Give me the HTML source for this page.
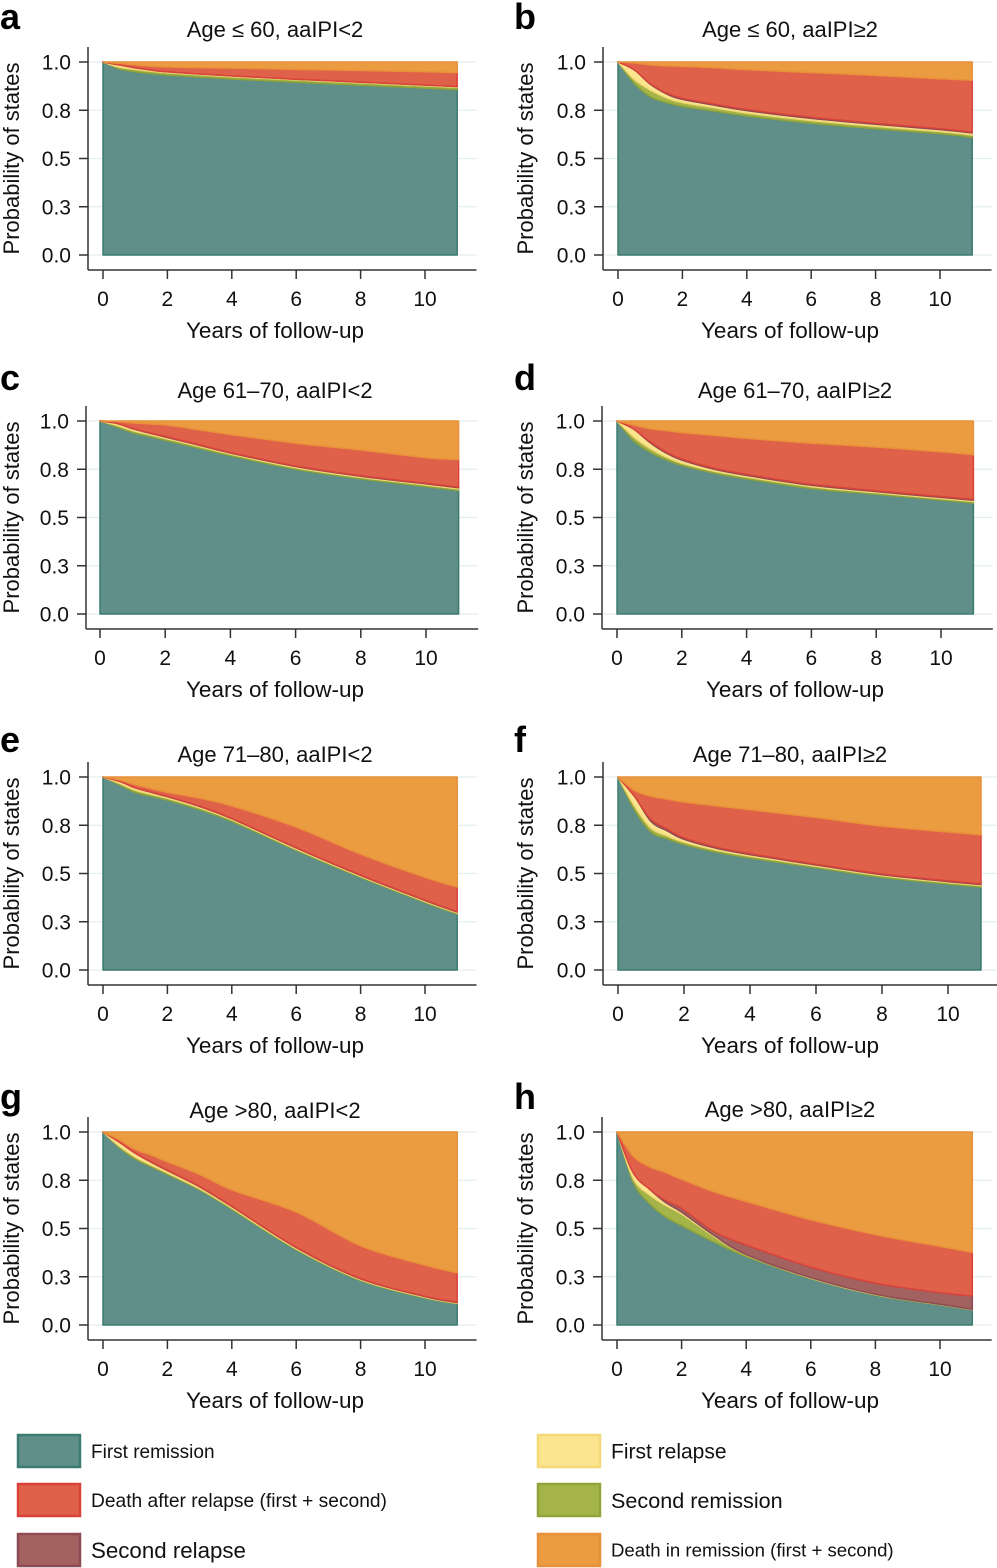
<!DOCTYPE html>
<html><head><meta charset="utf-8">
<style>
body{margin:0;background:#fff;}
svg{display:block;font-family:"Liberation Sans",Arial,sans-serif;}
</style></head>
<body>
<svg id="chart" width="997" height="1568" viewBox="0 0 997 1568" xmlns="http://www.w3.org/2000/svg"></svg>
<script>
const times = [0,0.5,1,1.5,2,3,4,6,8,10,11];
const xTickLabels = [0,2,4,6,8,10];
const yTickValues = [0,0.25,0.5,0.75,1];
const yTickLabels = ["0.0","0.3","0.5","0.8","1.0"];
const stateNames = ["First remission","Second remission","First relapse","Second relapse","Death after relapse (first + second)","Death in remission (first + second)"];
const panelTitles = ["Age \u2264 60, aaIPI<2","Age \u2264 60, aaIPI\u22652","Age 61\u201370, aaIPI<2","Age 61\u201370, aaIPI\u22652","Age 71\u201380, aaIPI<2","Age 71\u201380, aaIPI\u22652","Age >80, aaIPI<2","Age >80, aaIPI\u22652"];
const panelLetters = ["a","b","c","d","e","f","g","h"];

const aFirstRemission = [1,.965,.95,.94,.932,.922,.912,.895,.88,.865,.857];
const aSecondRemission = [0,.008,.012,.012,.012,.012,.012,.012,.012,.012,.012];
const aFirstRelapse = [0,.012,.008,.006,.005,.004,.004,.004,.004,.004,.004];
const aSecondRelapse = [0,0,0,0,0,0,0,0,0,0,0];
const aDeathRelapse = [0,.008,.015,.02,.025,.032,.04,.05,.06,.068,.072];
const aDeathRemission = [0,.007,.015,.022,.026,.03,.032,.039,.044,.051,.055];

const bFirstRemission = [1,.89,.82,.79,.77,.745,.72,.683,.654,.628,.61];
const bSecondRemission = [0,.02,.035,.025,.02,.018,.016,.014,.013,.012,.012];
const bFirstRelapse = [0,.05,.03,.02,.016,.013,.012,.011,.01,.01,.01];
const bSecondRelapse = [0,0,.003,.005,.006,.006,.006,.006,.006,.005,.005];
const bDeathRelapse = [0,.035,.097,.14,.165,.188,.206,.231,.247,.258,.268];
const bDeathRemission = [0,.005,.015,.02,.023,.03,.04,.055,.07,.087,.095];

const cFirstRemission = [1,.97,.94,.92,.9,.86,.82,.75,.7,.66,.64];
const cSecondRemission = [0,.008,.01,.01,.01,.01,.008,.008,.008,.008,.008];
const cFirstRelapse = [0,.01,.01,.008,.007,.006,.006,.006,.006,.006,.006];
const cSecondRelapse = [0,0,.002,.002,.003,.003,.003,.003,.003,.003,.003];
const cDeathRelapse = [0,.01,.028,.045,.06,.076,.093,.118,.133,.133,.143];
const cDeathRemission = [0,.002,.01,.015,.02,.045,.07,.115,.15,.19,.2];

const dFirstRemission = [1,.9,.84,.8,.77,.73,.7,.65,.62,.59,.575];
const dSecondRemission = [0,.02,.02,.015,.012,.01,.01,.01,.008,.008,.008];
const dFirstRelapse = [0,.04,.03,.02,.015,.01,.008,.007,.006,.006,.006];
const dSecondRelapse = [0,0,.005,.006,.006,.006,.006,.005,.005,.005,.005];
const dDeathRelapse = [0,.02,.065,.109,.137,.169,.186,.213,.226,.231,.231];
const dDeathRemission = [0,.02,.04,.05,.06,.075,.09,.115,.135,.16,.175];

const eFirstRemission = [1,.96,.92,.9,.88,.83,.77,.62,.48,.35,.29];
const eSecondRemission = [0,.008,.012,.01,.01,.01,.008,.006,.005,.005,.005];
const eFirstRelapse = [0,.01,.012,.01,.008,.007,.006,.006,.005,.005,.005];
const eSecondRelapse = [0,0,0,.002,.002,.002,.002,.002,.002,.002,.002];
const eDeathRelapse = [0,.007,.016,.018,.02,.041,.064,.106,.108,.118,.128];
const eDeathRemission = [0,.015,.04,.06,.08,.11,.15,.26,.4,.52,.57];

const fFirstRemission = [1,.83,.715,.68,.65,.61,.58,.53,.48,.445,.43];
const fSecondRemission = [0,.02,.02,.015,.012,.01,.01,.008,.008,.008,.008];
const fFirstRelapse = [0,.05,.035,.025,.015,.01,.008,.006,.006,.005,.005];
const fSecondRelapse = [0,0,.01,.01,.008,.006,.005,.004,.004,.004,.004];
const fDeathRelapse = [0,.03,.12,.155,.185,.214,.227,.242,.247,.253,.253];
const fDeathRemission = [0,.07,.1,.115,.13,.15,.17,.21,.255,.285,.30];

const gFirstRemission = [1,.92,.86,.82,.78,.7,.6,.39,.23,.14,.11];
const gSecondRemission = [0,.008,.01,.008,.008,.006,.006,.005,.004,.003,.003];
const gFirstRelapse = [0,.02,.02,.015,.012,.01,.008,.006,.005,.004,.003];
const gSecondRelapse = [0,0,0,.002,.002,.002,.002,.002,.002,.002,.002];
const gDeathRelapse = [0,.012,.02,.035,.043,.062,.084,.182,.169,.161,.152];
const gDeathRemission = [0,.04,.09,.12,.155,.22,.30,.415,.59,.69,.73];

const hFirstRemission = [1,.74,.63,.56,.515,.43,.355,.24,.155,.104,.078];
const hSecondRemission = [0,.02,.045,.06,.06,.03,.008,.003,.002,.002,.002];
const hFirstRelapse = [0,.03,.03,.015,.01,.005,.002,.002,.002,.001,.001];
const hSecondRelapse = [0,0,0,.01,.02,.02,.05,.055,.058,.061,.069];
const hDeathRelapse = [0,.085,.115,.145,.15,.205,.225,.245,.251,.239,.226];
const hDeathRemission = [0,.125,.18,.21,.245,.31,.36,.455,.532,.593,.624];

const panelSeries = [
 [aFirstRemission,aSecondRemission,aFirstRelapse,aSecondRelapse,aDeathRelapse,aDeathRemission],
 [bFirstRemission,bSecondRemission,bFirstRelapse,bSecondRelapse,bDeathRelapse,bDeathRemission],
 [cFirstRemission,cSecondRemission,cFirstRelapse,cSecondRelapse,cDeathRelapse,cDeathRemission],
 [dFirstRemission,dSecondRemission,dFirstRelapse,dSecondRelapse,dDeathRelapse,dDeathRemission],
 [eFirstRemission,eSecondRemission,eFirstRelapse,eSecondRelapse,eDeathRelapse,eDeathRemission],
 [fFirstRemission,fSecondRemission,fFirstRelapse,fSecondRelapse,fDeathRelapse,fDeathRemission],
 [gFirstRemission,gSecondRemission,gFirstRelapse,gSecondRelapse,gDeathRelapse,gDeathRemission],
 [hFirstRemission,hSecondRemission,hFirstRelapse,hSecondRelapse,hDeathRelapse,hDeathRemission]
];

const fills = ["#5f8f88","#a5b448","#fbe58f","#a3615f","#e0614a","#eb9b40"];
const strokes = ["#3b7b71","#8fa33a","#f3d977","#8c4b55","#d9433a","#e8903a"];
const geom = [
 {x0:103,ppy:32.2,y1:62,y0:255,ax:88,lx:0,ly:17,tx:275,ty:29},
 {x0:618,ppy:32.2,y1:62,y0:255,ax:603,lx:514,ly:17,tx:790,ty:29},
 {x0:100,ppy:32.6,y1:421,y0:614,ax:86,lx:0,ly:378,tx:275,ty:390},
 {x0:617,ppy:32.4,y1:421,y0:614,ax:602,lx:514,ly:378,tx:795,ty:390},
 {x0:103,ppy:32.2,y1:777,y0:970,ax:88,lx:0,ly:740,tx:275,ty:754},
 {x0:618,ppy:33,y1:777,y0:970,ax:603,lx:514,ly:740,tx:790,ty:754},
 {x0:103,ppy:32.2,y1:1132,y0:1325,ax:88,lx:0,ly:1097,tx:275,ty:1110},
 {x0:617,ppy:32.3,y1:1132,y0:1325,ax:602,lx:514,ly:1097,tx:790,ty:1109}
];

const NS = "http://www.w3.org/2000/svg";
const svg = document.getElementById("chart");
function mk(tag, attrs, parent, text){
  const e = document.createElementNS(NS, tag);
  for (const k in attrs) e.setAttribute(k, attrs[k]);
  if (text !== undefined) e.textContent = text;
  (parent||svg).appendChild(e);
  return e;
}
// smooth path through points (monotone-ish catmull-rom)
function smooth(pts){
  let d = "M" + pts[0][0].toFixed(1) + "," + pts[0][1].toFixed(1);
  for (let i = 0; i < pts.length - 1; i++){
    const p0 = pts[Math.max(0,i-1)], p1 = pts[i], p2 = pts[i+1], p3 = pts[Math.min(pts.length-1,i+2)];
    let c1y = p1[1] + (p2[1]-p0[1])/6, c2y = p2[1] - (p3[1]-p1[1])/6;
    const lo = Math.min(p1[1],p2[1]), hi = Math.max(p1[1],p2[1]);
    c1y = Math.min(hi, Math.max(lo, c1y)); c2y = Math.min(hi, Math.max(lo, c2y));
    const c1x = p1[0] + (p2[0]-p0[0])/6, c2x = p2[0] - (p3[0]-p1[0])/6;
    d += "C" + c1x.toFixed(1)+","+c1y.toFixed(1)+" "+c2x.toFixed(1)+","+c2y.toFixed(1)+" "+p2[0].toFixed(1)+","+p2[1].toFixed(1);
  }
  return d;
}

geom.forEach((g, p) => {
  const grp = mk("g", {});
  
  
  const xS = t => g.x0 + t * g.ppy;
  const yS = v => g.y0 - v * (g.y0 - g.y1);
  const axY = g.y0 + 15;
  yTickValues.forEach(v => {
    const gl = mk("line", {x1:g.ax, x2:xS(11.6), y1:yS(v), y2:yS(v), stroke:"#e3eeee", "stroke-width":1.2}, grp);
    
    
  });
  const series = panelSeries[p];
  const base = times.map(() => 0);
  series.forEach((vals, s) => {
    const lower = base.slice();
    const upper = lower.map((b, i) => b + vals[i]);
    const up = times.map((t, i) => [xS(t), yS(upper[i])]);
    const lo = times.map((t, i) => [xS(t), yS(lower[i])]).reverse();
    let d = smooth(up) + "L" + smooth(lo).slice(1) + "Z";
    const a = mk("path", {d:d, fill:fills[s], stroke:strokes[s], "stroke-width":1.5, "stroke-linejoin":"round"}, grp);
    
    
    upper.forEach((u, i) => base[i] = u);
  });
  const ya = mk("line", {x1:g.ax, x2:g.ax, y1:g.y1 - 15, y2:axY, stroke:"#333", "stroke-width":1.5}, grp);
  
  
  const xa = mk("line", {x1:g.ax, x2:xS(11.6), y1:axY, y2:axY, stroke:"#333", "stroke-width":1.5}, grp);
  
  
  yTickValues.forEach((v, i) => {
    const tk = mk("line", {x1:g.ax - 9, x2:g.ax, y1:yS(v), y2:yS(v), stroke:"#333", "stroke-width":1.5}, grp);
    
    
    const tl = mk("text", {x:g.ax - 17, y:yS(v) + 7.5, "text-anchor":"end", "font-size":21, fill:"#111"}, grp, yTickLabels[i]);
    
    
  });
  xTickLabels.forEach(t => {
    const tk = mk("line", {x1:xS(t), x2:xS(t), y1:axY, y2:axY + 9, stroke:"#333", "stroke-width":1.5}, grp);
    
    
    const tl = mk("text", {x:xS(t), y:axY + 36, "text-anchor":"middle", "font-size":21, fill:"#111"}, grp, String(t));
    
    
  });
  const xt = mk("text", {x:g.tx, y:axY + 68, "text-anchor":"middle", "font-size":22.5, fill:"#111"}, grp, "Years of follow-up");
  
  
  const cy = (g.y0 + g.y1) / 2;
  const yt = mk("text", {x:g.lx + 19, y:cy, "text-anchor":"middle", "font-size":22, fill:"#111", transform:"rotate(-90 " + (g.lx + 19) + " " + cy + ")"}, grp, "Probability of states");
  
  
  const tt = mk("text", {x:g.tx, y:g.ty + 8, "text-anchor":"middle", "font-size":22, fill:"#111"}, grp, panelTitles[p]);
  
  
  const lt = mk("text", {x:g.lx, y:g.ly + 12, "font-size":36, "font-weight":"bold", fill:"#000"}, grp, panelLetters[p]);
  
  
});

const legendItems = [
 {s:0, x:17, y:1451, size:19},
 {s:4, x:17, y:1500, size:19.2},
 {s:3, x:17, y:1550, size:22.3},
 {s:2, x:537, y:1451, size:21},
 {s:1, x:537, y:1500, size:21.6},
 {s:5, x:537, y:1550, size:18.6}
];
const lg = mk("g", {});


legendItems.forEach(it => {
  const r = mk("rect", {x:it.x + 1, y:it.y - 16, width:62, height:32, fill:fills[it.s], stroke:strokes[it.s], "stroke-width":2.5}, lg);
  
  
  const t = mk("text", {x:it.x + 74, y:it.y + it.size * 0.36, "font-size":it.size, fill:"#111"}, lg, stateNames[it.s]);
  
  
});
</script>
</body></html>
